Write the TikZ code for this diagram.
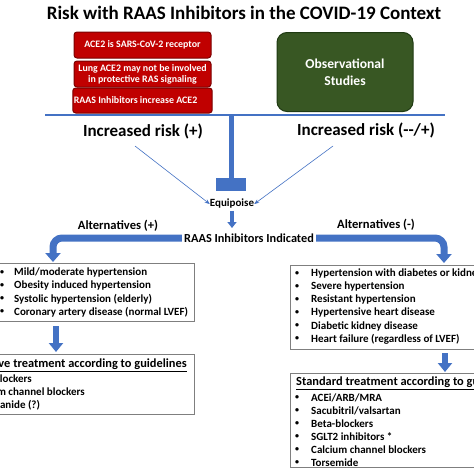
\documentclass[tikz,border=0pt]{standalone}
\usepackage{fontspec}
\setmainfont{Carlito}
\usetikzlibrary{arrows.meta}
\definecolor{obl}{HTML}{4472C4}
\definecolor{rfill}{HTML}{C00000}
\definecolor{rdraw}{HTML}{7A0000}
\definecolor{gfill}{HTML}{385723}
\definecolor{gdraw}{HTML}{1F3A12}
\definecolor{bxd}{HTML}{7F7F7F}
\tikzset{
  redbox/.style={draw=rdraw,line width=1pt,fill=rfill,rounded corners=3pt,minimum width=137pt,text=white,font=\bfseries\fontsize{9.9}{11.5}\selectfont,align=center,inner sep=1pt},
  greenbox/.style={draw=gdraw,line width=1pt,fill=gfill,rounded corners=10pt,minimum width=136pt,minimum height=79pt,text=white,font=\bfseries\fontsize{13.6}{17}\selectfont,align=center},
  risk/.style={font=\bfseries\fontsize{17}{19}\selectfont,inner sep=0pt},
  lbl/.style={font=\bfseries\fontsize{11}{13}\selectfont,inner sep=0pt},
  item/.style={font=\bfseries\fontsize{11}{13}\selectfont,anchor=west,inner sep=0pt},
  head/.style={font=\bfseries\fontsize{12.4}{14}\selectfont,anchor=west,inner sep=0pt},
  bul/.style={font=\bfseries\fontsize{8}{10}\selectfont,inner sep=0pt},
  listbox/.style={draw=bxd,line width=0.9pt},
  thinarrow/.style={draw=obl,line width=0.6pt,-{Stealth[length=5pt,width=4pt]}},
  bigarrow/.style={draw=obl,line width=7pt,-{Triangle[length=9pt,width=15pt]}},
  downarrow/.style={draw=obl,line width=6pt,-{Triangle[length=9pt,width=14pt]}},
  smallarrow/.style={draw=obl,line width=3.5pt,-{Triangle[length=6pt,width=9pt]}}
}
\begin{document}
\begin{tikzpicture}[x=1pt,y=-1pt]
\useasboundingbox (0,0) rectangle (474,474);
\clip (0,0) rectangle (474,474);
\fill[white] (0,0) rectangle (474,474);
% title
\node[font=\bfseries\fontsize{19}{22}\selectfont,inner sep=0pt] (title) at (244,13) {Risk with RAAS Inhibitors in the COVID-19 Context};
% red boxes
\node[redbox,minimum height=26pt] (r1) at (142.5,45) {ACE2 is SARS-CoV-2 receptor};
\node[redbox,minimum height=26pt,font=\bfseries\fontsize{9.9}{11}\selectfont] (r2) at (142.5,74) {Lung ACE2 may not be involved\\in protective RAS signaling};
\node[redbox,minimum height=25pt] (r3) at (142.5,100.5) {RAAS Inhibitors increase ACE2\hspace{14pt}};
% green box
\node[greenbox] (g) at (345,72) {Observational\\Studies};
% horizontal line and T-bar
\coordinate (h1) at (45,115);
\coordinate (h2) at (445,115);
\coordinate (tt) at (231,115);
\coordinate (tb) at (231,179);
\draw[obl,line width=1.5pt] (h1) -- (h2);
\draw[obl,line width=5pt] (tt) -- (tb);
\node[fill=obl,minimum width=30pt,minimum height=13pt,inner sep=0pt] (bar) at (231,184.5) {};
% risk labels
\node[risk] (ir1) at (143,131) {Increased risk (+)};
\node[risk] (ir2) at (366,130) {Increased risk (-{}-/+)};
% equipoise
\node[lbl] (eq) at (232,204) {Equipoise};
\coordinate (a1s) at (135,146);
\coordinate (a2s) at (333,146);
\draw[thinarrow] (a1s) -- (eq.west);
\draw[thinarrow] (a2s) -- (eq.east);
% RAAS indicated
\node[lbl,font=\bfseries\fontsize{12.3}{14}\selectfont] (ri) at (249,238) {RAAS Inhibitors Indicated};
\draw[smallarrow] (eq.south) ++(0,2) -- (232,228);
% alternatives
\node[lbl,font=\bfseries\fontsize{12.6}{14}\selectfont] (alp) at (118,226) {Alternatives (+)};
\node[lbl,font=\bfseries\fontsize{12.6}{14}\selectfont] (alm) at (376,225) {Alternatives (-)};
\coordinate (lt) at (53,262);
\coordinate (rt) at (444,263);
\draw[bigarrow,rounded corners=9pt] (ri.west) ++(-2,0) -| (lt);
\draw[bigarrow,rounded corners=9pt] (ri.east) ++(2,0) -| (rt);
% left list box
\node[listbox,minimum width=214pt,minimum height=58pt,inner sep=0pt] (lb) at (87,292) {};
\foreach \t [count=\i] in {Mild/moderate hypertension,Obesity induced hypertension,Systolic hypertension (elderly),Coronary artery disease (normal LVEF)}{
  \node[bul] at (2,260+13*\i) {•};
  \node[item] at (14,260+13*\i) {\t};
}
\coordinate (ld1) at (56,326);
\coordinate (ld2) at (56,352);
\draw[downarrow] (ld1) -- (ld2);
% left treatment box
\node[listbox,minimum width=264pt,minimum height=60pt,inner sep=0pt] (lt2) at (62,384) {};
\node[head,anchor=east] (lh) at (187,365.5) {\underline{Alternative treatment according to guidelines}};
\node[item,anchor=east] (lb1) at (32,378.5) {Beta-blockers};
\node[item] (lb2) at (lb1.west |- 0,392) {Calcium channel blockers};
\node[item] (lb3) at (lb1.west |- 0,405) {Bumetanide (?)};
\foreach \n in {lb1,lb2,lb3}{
  \node[bul,xshift=-12pt] at (\n.west) {•};
}
% right list box
\node[listbox,minimum width=200pt,minimum height=84pt,inner sep=0pt] (rb) at (390,307) {};
\foreach \t [count=\i] in {Hypertension with diabetes or kidney disease,Severe hypertension,Resistant hypertension,Hypertensive heart disease,Diabetic kidney disease,Heart failure (regardless of LVEF)}{
  \node[bul] at (297,261+13*\i) {•};
  \node[item] at (311,261+13*\i) {\t};
}
\coordinate (rd1) at (445,353);
\coordinate (rd2) at (445,372);
\draw[downarrow] (rd1) -- (rd2);
% right treatment box
\node[listbox,minimum width=200pt,minimum height=94pt,inner sep=0pt] (rt2) at (390,420) {};
\node[head] (rh) at (296,383.5) {\underline{Standard treatment according to guidelines}};
\foreach \t [count=\i] in {ACEi/ARB/MRA,Sacubitril/valsartan,Beta-blockers,SGLT2 inhibitors *,Calcium channel blockers,Torsemide}{
  \node[bul] at (297,385+13*\i) {•};
  \node[item] at (311,385+13*\i) {\t};
}
\end{tikzpicture}
\end{document}
